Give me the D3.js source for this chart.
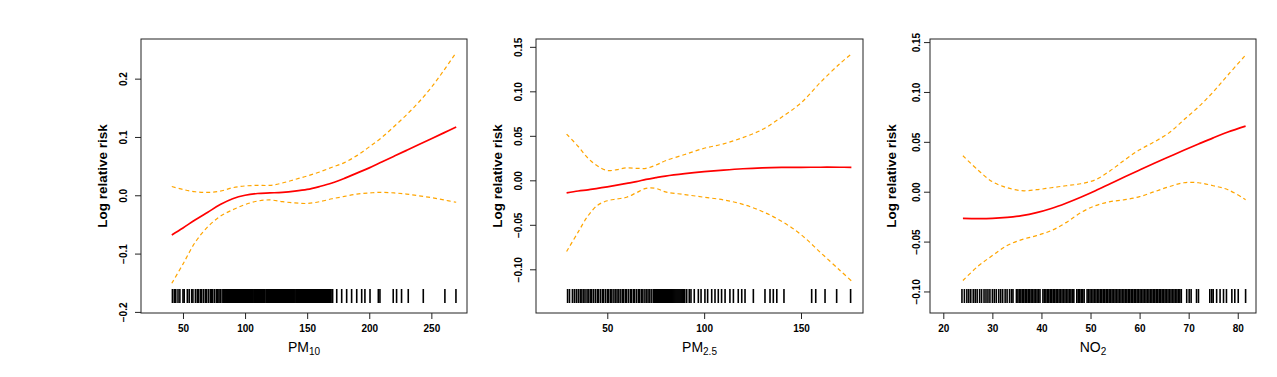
<!DOCTYPE html>
<html>
<head>
<meta charset="utf-8">
<script src="https://cdn.jsdelivr.net/npm/d3@7"></script>
<style>
  body { margin: 0; background: #fff; }
  svg { font-family: "Liberation Sans", Arial, sans-serif; }
  .tick text { font-size: 10px; font-weight: bold; fill: #000; }
  .tick line { stroke: #222; }
</style>
</head>
<body>
<div id="chart"></div>
<script>
// DATA
// PM10 panel
const pm10X     = [41, 50, 60, 70, 80, 90, 100, 110, 120, 130, 140, 150, 160, 170, 180, 190, 200, 210, 220, 230, 240, 250, 260, 270];
const pm10Fit   = [-0.068, -0.056, -0.042, -0.029, -0.016, -0.006, 0.000, 0.003, 0.004, 0.005, 0.007, 0.010, 0.015, 0.021, 0.029, 0.038, 0.047, 0.057, 0.067, 0.077, 0.087, 0.097, 0.107, 0.117];
const pm10Upper = [0.015, 0.010, 0.006, 0.005, 0.007, 0.013, 0.016, 0.017, 0.017, 0.021, 0.027, 0.033, 0.040, 0.048, 0.056, 0.068, 0.083, 0.099, 0.118, 0.138, 0.160, 0.185, 0.214, 0.245];
const pm10Lower = [-0.151, -0.118, -0.080, -0.054, -0.036, -0.025, -0.016, -0.010, -0.008, -0.011, -0.013, -0.014, -0.011, -0.006, -0.002, 0.002, 0.004, 0.005, 0.004, 0.002, -0.001, -0.004, -0.008, -0.012];
const pm10Rug = [41.5, 43, 44.2, 46, 47.5, 50, 51, 53.5, 55, 57, 58, 60, 61.5, 62.5, 64, 65, 66.5, 68, 69, 70.5, 72, 73, 74, 75.5, 77, 78, 79, 80, 81.5, 82.5, 83.5,
  84.5, 85, 85.5, 86, 86.5, 87, 87.5, 88, 88.5, 89, 90, 90.5, 91, 91.5, 92, 92.5, 93, 93.5, 94, 94.5, 95, 95.5, 96, 96.5, 97, 97.5, 98, 98.5, 99, 99.5, 100, 100.5, 101, 101.5, 102, 102.5, 103, 103.5, 104, 104.5, 105, 105.5, 106, 106.5, 107.5, 108, 108.5, 109, 109.5, 110, 110.5, 111, 111.5, 112, 112.5, 113, 113.5, 114, 114.5, 115, 115.5, 116, 117, 117.5, 118, 118.5, 119, 119.5, 120, 120.5, 121, 121.5, 122, 122.5, 123, 123.5, 124, 124.5, 125, 125.5, 126, 126.5, 127, 127.5, 128, 128.5, 129, 129.5, 130, 130.5, 131, 131.5, 132, 132.5, 133, 133.5, 134, 134.5, 135, 135.5, 136, 136.5, 137, 137.5, 138, 138.5, 139, 139.5, 140.2,
  141, 141.5, 142, 142.5, 143, 143.5, 144, 144.5, 145.5, 146, 146.5, 147, 147.5, 148, 148.5, 149, 149.5, 150, 150.5, 151, 151.5, 152, 152.5, 153, 153.5, 154, 154.5, 155, 155.5, 156, 156.5, 157, 157.5, 158, 158.5, 159, 159.5, 160, 160.5, 161, 161.5, 162, 162.5, 163, 163.5, 164, 164.5, 165, 165.5, 166, 166.5, 167, 168, 168.5, 169, 170, 170.5,
  173.8, 177.8, 181.8, 185.8, 189.9, 193.9, 196.5, 200.6, 207.3, 208.6, 219.3, 222, 226, 231.4, 243.5, 260.9, 269.8];
const pm10XTicks = [50, 100, 150, 200, 250];
const pm10YTicks = [-0.2, -0.1, 0, 0.1, 0.2];

// PM2.5 panel
const pm25X     = [29, 35, 40, 45, 50, 55, 60, 65, 70, 75, 80, 90, 100, 110, 120, 130, 140, 150, 160, 170, 176];
const pm25Fit   = [-0.0142, -0.012, -0.0107, -0.009, -0.0073, -0.0055, -0.0035, -0.0015, 0.001, 0.003, 0.0048, 0.0075, 0.0097, 0.0115, 0.013, 0.014, 0.0145, 0.0146, 0.0147, 0.0147, 0.0146];
const pm25Upper = [0.052, 0.038, 0.025, 0.016, 0.011, 0.012, 0.014, 0.0135, 0.0135, 0.017, 0.022, 0.029, 0.036, 0.041, 0.048, 0.057, 0.071, 0.087, 0.110, 0.131, 0.142];
const pm25Lower = [-0.080, -0.058, -0.040, -0.028, -0.023, -0.021, -0.019, -0.014, -0.009, -0.009, -0.013, -0.016, -0.019, -0.022, -0.027, -0.035, -0.046, -0.061, -0.081, -0.101, -0.113];
const pm25Rug = [29.5, 30.5, 32, 33, 34, 35, 36, 36.5, 37.5, 38, 39, 40, 40.5, 41.5, 42, 43, 44, 45, 45.5, 46.5, 47.5, 48, 49, 50, 50.5, 51.5, 52, 53, 54, 54.5, 55.5, 56, 57, 58, 58.5, 59.5, 60, 61, 62, 62.5, 63.5, 64, 65, 66, 66.5, 67.5, 68, 69, 70, 70.5, 71.5, 72, 73, 74, 74.5, 75, 75.5, 76, 76.5, 77, 77.5, 78, 78.5, 79, 79.5, 80, 80.5, 81, 81.5, 82, 82.5, 83, 83.5, 84, 84.5, 85, 85.5, 86, 86.5, 87, 87.5, 88, 88.5, 89, 89.5, 90, 91, 92.3,
  93.2, 94.9, 97, 98.4, 100.4, 101.8, 103.9, 105.6, 107.3, 109, 110.8, 113.3, 115.1, 117.6, 119.4, 121.1, 125.4, 131.4, 134, 135.7, 137.5, 141.2, 155.5, 157.6, 162.4, 168.4, 175.6];
const pm25XTicks = [50, 100, 150];
const pm25YTicks = [-0.1, -0.05, 0, 0.05, 0.1, 0.15];

// NO2 panel
const no2X     = [24, 27, 30, 33, 36, 39, 42, 45, 48, 51, 54, 57, 60, 63, 66, 69, 72, 75, 78, 81.6];
const no2Fit   = [-0.0268, -0.0270, -0.0268, -0.0258, -0.0240, -0.0210, -0.0168, -0.0115, -0.0055, 0.0010, 0.0080, 0.0150, 0.0218, 0.0285, 0.0350, 0.0415, 0.0478, 0.0540, 0.0598, 0.0658];
const no2Upper = [0.036, 0.022, 0.010, 0.004, 0.001, 0.002, 0.004, 0.006, 0.008, 0.012, 0.021, 0.032, 0.042, 0.050, 0.059, 0.072, 0.085, 0.100, 0.117, 0.137];
const no2Lower = [-0.089, -0.075, -0.064, -0.054, -0.048, -0.044, -0.039, -0.031, -0.021, -0.014, -0.010, -0.008, -0.005, 0.000, 0.005, 0.009, 0.009, 0.006, 0.002, -0.008];
const no2Rug = [23.8, 24.3, 24.8, 25.2, 25.6, 26.1, 26.5, 26.9, 27.4, 27.8, 28.3, 28.7, 29.1, 29.5, 30.0, 30.4, 30.8, 31.3, 31.7, 32.1, 32.6, 33.0, 33.5, 33.9, 34.2, 34.9, 35.2, 35.5, 35.8, 36.1, 36.4, 36.7, 37.0, 37.3, 37.6, 37.9, 38.2, 38.5, 38.8, 39.1, 39.4, 39.7, 40.3, 40.6, 40.9, 41.2, 41.5, 41.8, 42.1, 42.4, 42.7, 43.0, 43.3, 43.6, 43.9, 44.2, 44.5, 44.8, 45.1, 45.4, 45.7, 46.0, 46.3, 46.6, 47.2, 47.5, 47.8, 48.1, 48.4, 48.7, 49.3, 49.6, 49.9, 50.2, 50.5, 50.8, 51.1, 51.4, 51.7, 52.0, 52.3, 52.6, 52.9, 53.2, 53.5, 53.8, 54.1, 54.4, 54.7, 55.0, 55.3, 55.6, 55.9, 56.2, 56.5, 56.8, 57.1, 57.4, 57.7, 58.0, 58.3, 58.6, 58.9, 59.2, 59.5, 59.8, 60.1, 60.4, 60.7, 61.0, 61.3, 61.6, 61.9, 62.2, 62.5, 62.8, 63.1, 63.4, 63.7, 64.0, 64.3, 64.6, 64.9, 65.2, 65.5, 65.8, 66.1, 66.4, 66.7, 67.0, 67.3, 67.6, 67.9, 68.2, 68.5,
  69.6, 70.1, 70.5, 71.6, 72.0, 74.3, 74.7, 75.0, 75.7, 76.4, 77.1, 77.7, 78.8, 79.4, 80.1, 81.6];
const no2XTicks = [20, 30, 40, 50, 60, 70, 80];
const no2YTicks = [-0.1, -0.05, 0, 0.05, 0.1, 0.15];

const W = 1277, H = 377;
const plotTop = 39, plotBottom = 313;

const panels = [
  { x: pm10X, fit: pm10Fit, up: pm10Upper, lo: pm10Lower, rug: pm10Rug, xTicks: pm10XTicks, yTicks: pm10YTicks,
    left: 141, right: 467, xDom: [16.2, 278.7], yDom: [-0.2019, 0.268], fmt: ".1f", labOff: 17.4,
    name: "PM", sub: "10" },
  { x: pm25X, fit: pm25Fit, up: pm25Upper, lo: pm25Lower, rug: pm25Rug, xTicks: pm25XTicks, yTicks: pm25YTicks,
    left: 536, right: 863, xDom: [13.2, 182.0], yDom: [-0.1491, 0.1588], fmt: ".2f", labOff: 17.4,
    name: "PM", sub: "2.5" },
  { x: no2X, fit: no2Fit, up: no2Upper, lo: no2Lower, rug: no2Rug, xTicks: no2XTicks, yTicks: no2YTicks,
    left: 930, right: 1256, xDom: [17.29, 83.72], yDom: [-0.1216, 0.1531], fmt: ".2f", labOff: 13.5,
    name: "NO", sub: "2" }
];

const svg = d3.select("#chart").append("svg")
  .attr("width", W)
  .attr("height", H);

panels.forEach(p => {
  const xScale = d3.scaleLinear().domain(p.xDom).range([p.left, p.right]);
  const yScale = d3.scaleLinear().domain(p.yDom).range([plotBottom, plotTop]);
  const g = svg.append("g");

  // rug
  g.append("g").selectAll("line")
    .data(p.rug)
    .enter()
    .append("line")
    .attr("x1", d => xScale(d))
    .attr("x2", d => xScale(d))
    .attr("y1", 289)
    .attr("y2", 303)
    .attr("stroke", "#000")
    .attr("stroke-width", 1.6);

  const rows = p.x.map((v, i) => ({ x: v, fit: p.fit[i], up: p.up[i], lo: p.lo[i] }));
  const line = key => d3.line()
    .x(d => xScale(d.x))
    .y(d => yScale(d[key]))
    .curve(d3.curveCatmullRom.alpha(0.5));

  ["up", "lo"].forEach(k => {
    g.append("path")
      .datum(rows)
      .attr("d", line(k))
      .attr("fill", "none")
      .attr("stroke", "#ffa500")
      .attr("stroke-width", 1.2)
      .attr("stroke-dasharray", "4,3");
  });

  g.append("path")
    .datum(rows)
    .attr("d", line("fit"))
    .attr("fill", "none")
    .attr("stroke", "#ff0000")
    .attr("stroke-width", 1.7);

  // axes
  const xAxisGroup = g.append("g")
    .attr("transform", `translate(0, ${plotBottom})`)
    .call(d3.axisBottom(xScale).tickValues(p.xTicks).tickSize(6).tickPadding(6));
  xAxisGroup.select(".domain").remove();

  const yAxisGroup = g.append("g")
    .attr("transform", `translate(${p.left}, 0)`)
    .call(d3.axisLeft(yScale).tickValues(p.yTicks).tickSize(6).tickFormat(d3.format(p.fmt)));
  yAxisGroup.select(".domain").remove();
  yAxisGroup.selectAll("text")
    .attr("x", null)
    .attr("dy", null)
    .attr("transform", `translate(${-p.labOff}, 0) rotate(-90)`)
    .attr("text-anchor", "middle")
    .attr("dominant-baseline", "central");

  // box
  g.append("rect")
    .attr("x", p.left)
    .attr("y", plotTop)
    .attr("width", p.right - p.left)
    .attr("height", plotBottom - plotTop)
    .attr("fill", "none")
    .attr("stroke", "#222")
    .attr("stroke-width", 1);

  // y title
  g.append("text")
    .attr("transform", `translate(${p.left - 39}, ${(plotTop + plotBottom) / 2}) rotate(-90)`)
    .attr("text-anchor", "middle")
    .attr("dominant-baseline", "central")
    .style("font-size", "13.5px")
    .style("font-weight", "bold")
    .text("Log relative risk");

  // x title
  const xt = g.append("text")
    .attr("x", (p.left + p.right) / 2)
    .attr("y", 352)
    .attr("text-anchor", "middle")
    .style("font-size", "14px");
  xt.append("tspan").text(p.name);
  xt.append("tspan").attr("dy", 3).style("font-size", "10px").text(p.sub);
});
</script>
</body>
</html>
